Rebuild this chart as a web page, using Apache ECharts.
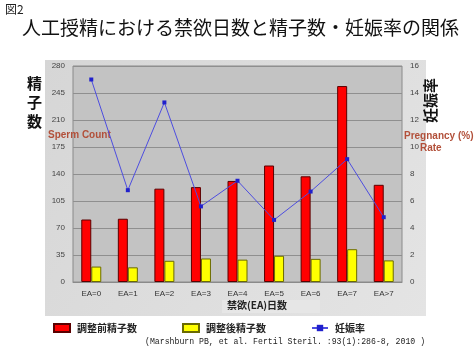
<!DOCTYPE html>
<html>
<head>
    <meta charset="utf-8">
    <title>ECharts</title>
    <script src="https://cdn.jsdelivr.net/npm/echarts@6/dist/echarts.min.js"></script>
</head>
<body style="margin:0;background:#fff;">
<div id="main" style="width: 474px;height:353px;"></div>
<script type="text/javascript">
  // 禁欲日数ごとのデータ
  var categories = ['EA=0', 'EA=1', 'EA=2', 'EA=3', 'EA=4', 'EA=5', 'EA=6', 'EA=7', 'EA>7'];
  var spermBefore = [81, 82, 121, 123, 131, 151, 137, 254, 126];
  var spermAfter = [20, 19, 27.5, 30.5, 29, 34, 30, 42.5, 28];
  var pregnancyRate = [15, 6.8, 13.3, 5.6, 7.5, 4.6, 6.7, 9.1, 4.8];
  var leftTicks = [0, 280, 35];
  var rightTicks = [0, 16, 2];

  var jp = '"Noto Sans CJK JP", sans-serif';
  var myChart = echarts.init(document.getElementById('main'));

  var option = {
    backgroundColor: '#fff',
    animation: false,
    textStyle: { fontFamily: 'Arial, "Liberation Sans", sans-serif' },
    graphic: [
      // 背景パネル
      { type: 'rect', z: -10, shape: { x: 45, y: 60, width: 381, height: 256 },
        style: { fill: new echarts.graphic.LinearGradient(0, 0, 1, 1, [
          { offset: 0, color: '#d6d6d6' }, { offset: 1, color: '#e4e4e4' }]) } },
      { type: 'rect', z: -9, shape: { x: 222, y: 300, width: 98, height: 13 },
        style: { fill: '#e6e6e6' } },
      { type: 'text', left: 5, top: 3, style: { text: '図2', font: '12px ' + jp, fill: '#222' } },
      { type: 'text', left: 22, top: 18, style: { text: '人工授精における禁欲日数と精子数・妊娠率の関係', font: '19px ' + jp, fill: '#111' } },
      { type: 'text', left: 27, top: 74, style: { text: '精\n子\n数', font: 'bold 15px ' + jp, lineHeight: 19, fill: '#111' } },
      { type: 'text', x: 423, y: 123, rotation: Math.PI / 2,
        style: { text: '妊娠率', font: 'bold 15px ' + jp, fill: '#111' } },
      { type: 'text', left: 48, top: 130, style: { text: 'Sperm Count', font: 'bold 10px Arial', fill: '#b2503a' } },
      { type: 'text', left: 404, top: 131, style: { text: 'Pregnancy (%)', font: 'bold 10px Arial', fill: '#b2503a' } },
      { type: 'text', left: 420, top: 143, style: { text: 'Rate', font: 'bold 10px Arial', fill: '#b2503a' } },
      { type: 'text', left: 227, top: 300, style: { text: '禁欲(EA)日数', font: 'bold 10px ' + jp, fill: '#222' } },
      { type: 'text', left: 145, top: 338, style: { text: '(Marshburn PB, et al. Fertil Steril. :93(1):286-8, 2010 )', font: '8.2px "Liberation Mono", monospace', fill: '#222' } }
    ],
    legend: {
      left: 48,
      top: 318,
      itemWidth: 16,
      itemHeight: 8,
      itemGap: 45,
      textStyle: { fontFamily: jp, fontWeight: 'bold', fontSize: 10, color: '#222', padding: [0, 0, 0, 2] },
      data: [
        { name: '調整前精子数', icon: 'rect' },
        { name: '調整後精子数', icon: 'rect' },
        '妊娠率'
      ]
    },
    grid: {
      left: 73, right: 72, top: 66, bottom: 71,
      show: true,
      backgroundColor: '#c3c3c3',
      borderColor: '#8a8a8a',
      borderWidth: 1
    },
    xAxis: {
      type: 'category',
      data: categories,
      axisTick: { show: false },
      axisLine: { lineStyle: { color: '#8a8a8a' } },
      axisLabel: { fontSize: 8, color: '#333', margin: 8 }
    },
    yAxis: [
      {
        type: 'value', min: leftTicks[0], max: leftTicks[1], interval: leftTicks[2],
        axisLine: { show: false }, axisTick: { show: false },
        axisLabel: { fontSize: 8, color: '#444', margin: 8 },
        splitLine: { lineStyle: { color: '#8f8f8f' } }
      },
      {
        type: 'value', min: rightTicks[0], max: rightTicks[1], interval: rightTicks[2],
        axisLine: { show: false }, axisTick: { show: false },
        axisLabel: { fontSize: 8, color: '#444', margin: 8 },
        splitLine: { show: false }
      }
    ],
    series: [
      {
        name: '調整前精子数', type: 'bar', data: spermBefore,
        barWidth: 10, barGap: '0%',
        itemStyle: { color: '#ff0000', borderColor: '#5a0000', borderWidth: 1 }
      },
      {
        name: '調整後精子数', type: 'bar', data: spermAfter,
        barWidth: 10,
        itemStyle: { color: '#ffff00', borderColor: '#6b6b00', borderWidth: 1 }
      },
      {
        name: '妊娠率', type: 'line', yAxisIndex: 1, data: pregnancyRate,
        symbol: 'rect', symbolSize: 4,
        lineStyle: { color: '#4d4de0', width: 1 },
        itemStyle: { color: '#2020cc' }
      }
    ]
  };
  myChart.setOption(option);
</script>
</body>
</html>
